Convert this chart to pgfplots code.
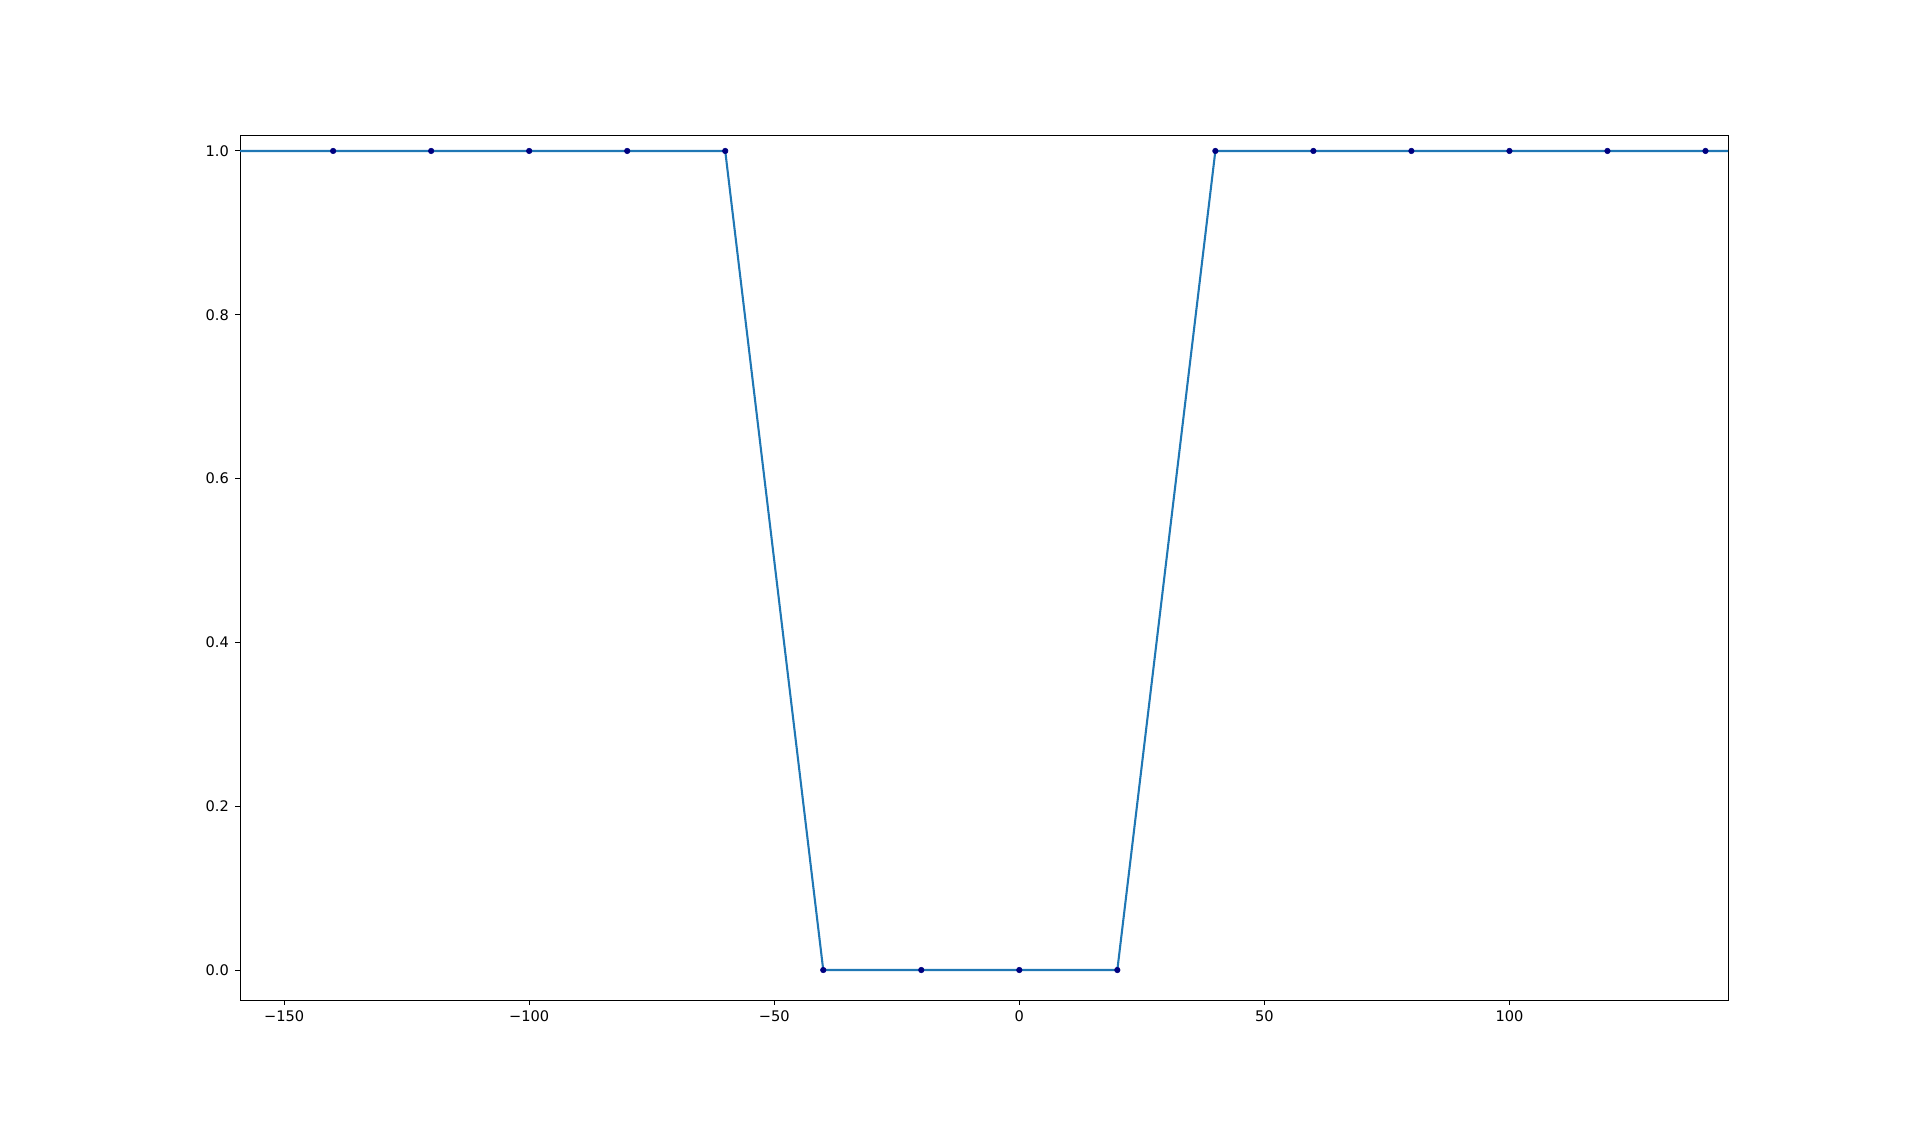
\documentclass[border=0pt]{standalone}
\usepackage{fontspec}
\setmainfont{DejaVu Sans}
\usepackage{pgfplots}
\pgfplotsset{compat=1.18}
\definecolor{lineblue}{HTML}{1F77B4}
\definecolor{markblue}{HTML}{000080}
\begin{document}
\begin{tikzpicture}
\path (0,0) rectangle (1382.4pt,809.28pt);
\begin{axis}[
    at={(172.8pt,89.28pt)}, anchor=south west,
    scale only axis,
    width=1071.36pt, height=622.8pt,
    xmin=-159, xmax=144.6,
    ymin=-0.0366, ymax=1.0195,
    xtick={-150,-100,-50,0,50,100},
    xticklabels={−150,−100,−50,0,50,100},
    ytick={0,0.2,0.4,0.6,0.8,1.0},
    yticklabels={0.0,0.2,0.4,0.6,0.8,1.0},
    tick align=outside,
    major tick length=3.5pt,
    tick style={black, line width=0.7pt},
    axis line style={line width=0.7pt},
    xtick pos=bottom, ytick pos=left,
    tick label style={font=\fontsize{10.5}{12}\selectfont},
    xticklabel style={yshift=-1pt},
    yticklabel style={xshift=-1pt},
    clip=true,
]
\addplot[lineblue, line width=1.5pt] coordinates {
    (-160,1)(-140,1)(-120,1)(-100,1)(-80,1)(-60,1)
    (-40,0)(-20,0)(0,0)(20,0)
    (40,1)(60,1)(80,1)(100,1)(120,1)(140,1)(160,1)
};
\addplot[only marks, mark=*, mark size=2pt, color=markblue] coordinates {
    (-140,1)(-120,1)(-100,1)(-80,1)(-60,1)
    (-40,0)(-20,0)(0,0)(20,0)
    (40,1)(60,1)(80,1)(100,1)(120,1)(140,1)
};
\end{axis}
\end{tikzpicture}
\end{document}
